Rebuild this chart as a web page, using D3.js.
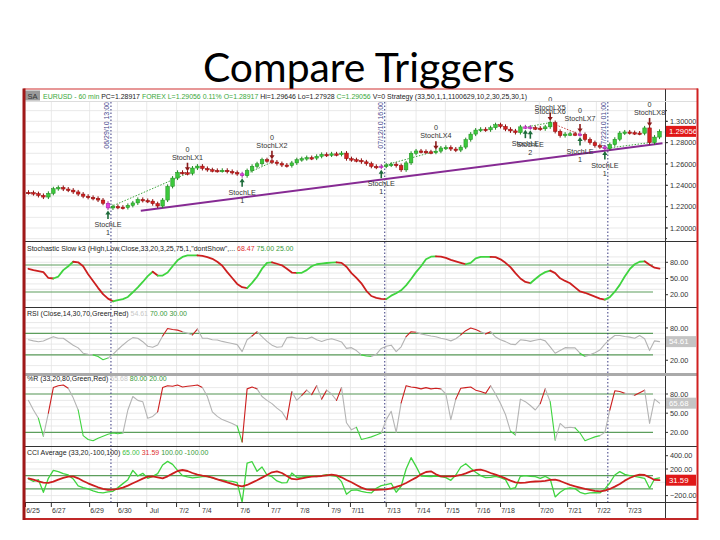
<!DOCTYPE html>
<html><head><meta charset="utf-8">
<script src="https://cdn.jsdelivr.net/npm/d3@7"></script>
<style>
body{margin:0;background:#fff}
svg{display:block}
text{font-family:"Liberation Sans",Arial,sans-serif}
</style>
</head><body><svg id="c" width="720" height="540"></svg>
<script>
// ---------------- DATA ----------------
const firstOpen = 1.2335;
const closes = [1.2332,1.2322,1.2305,1.2290,1.2325,1.2368,1.2380,1.2365,1.2355,1.2338,
 1.2318,1.2298,1.2287,1.2278,1.2262,1.2232,1.2188,1.2202,1.2195,1.2192,
 1.2212,1.2235,1.2268,1.2258,1.2252,1.2228,1.2206,1.2262,1.2390,1.2468,
 1.2522,1.2518,1.2512,1.2562,1.2580,1.2558,1.2546,1.2540,1.2538,1.2541,
 1.2530,1.2520,1.2508,1.2490,1.2538,1.2578,1.2602,1.2640,1.2630,1.2618,
 1.2604,1.2590,1.2585,1.2610,1.2640,1.2650,1.2660,1.2655,1.2672,1.2690,
 1.2684,1.2695,1.2690,1.2702,1.2650,1.2640,1.2634,1.2620,1.2603,1.2578,
 1.2570,1.2580,1.2590,1.2598,1.2585,1.2545,1.2610,1.2700,1.2722,1.2718,
 1.2714,1.2710,1.2720,1.2750,1.2756,1.2740,1.2730,1.2758,1.2828,1.2880,
 1.2918,1.2926,1.2920,1.2940,1.2968,1.2952,1.2926,1.2910,1.2895,1.2948,
 1.2945,1.2940,1.2936,1.2930,1.2948,1.2988,1.2905,1.2866,1.2880,1.2883,
 1.2880,1.2876,1.2830,1.2800,1.2772,1.2760,1.2745,1.2782,1.2832,1.2890,
 1.2900,1.2894,1.2890,1.2888,1.2938,1.2800,1.2852,1.29056];

const stochK = [68,65.5,63.6,61.8,51,50,53.6,65.5,72.7,81,
 80,72.7,58,45.5,32.7,21,12.7,7.8,10,11.8,
 15.8,24.5,33.6,43.6,54.5,62.4,55.5,55.5,61,72.7,
 83.6,90,92.7,92.7,92.7,91.8,89.6,86.4,81,73.6,
 61.8,51,40,34,32.2,41.8,53.3,68.2,79,80,
 77.3,74.5,68.2,61,60.5,60.5,65.5,72.7,76.4,77.6,
 78.7,79.5,80,79,71.8,60,51,41,27.3,17.6,
 14.2,12.2,11.8,18.2,22.7,28.2,37.3,49,61.8,72.7,
 85.5,90.4,91,90.5,88.2,84.5,81.8,79,76.4,79,
 87.3,90,90,90,89.6,85.5,79,71,60,50,
 43.6,41.3,49,56.4,61.8,64.5,60,50.4,45.5,41.3,
 33.6,26,23.6,20,16.4,12.7,10.9,15.5,25.5,38.2,
 53.6,67.3,76.4,81,81.8,75.5,70,68.47];

const rsiVals = [58,56,54.5,55.8,60,63.8,60.8,60.8,54.5,48,
 43,33,31,30,27,21,24,31,40,48.4,
 56,62,60.9,54.5,46,44,48.4,65,79,77,
 76,73,70,67,78,61,61,58,57.7,55,
 53,51,49,36,58,65,73,64,55,48,
 44,45,62,63,61,61,60,63,58,55,
 58,60,57,54,42,43.4,38,30,28,27,
 31,42,46,48,36,45,64,73,72,69,
 67,65,63.8,61,59,56,60,67,75,80,
 77,73,69,73,63,58,54.6,50,49,58,
 57,55,57,59,56,45,33,38,43.4,43,
 43,33,27,30,34,39,50,59,66,66,
 64,63,61,66,60,38,56,54.61];

const pctR = [70,55,42,14,50,90,93,94,89,74,
 55,15,9,7,11,14,17,19,18,19,
 55,76,70,68,42,45,52,90,93,92,
 94,91,92,93,94,90,76,52,45,40,
 37,34,30,5,88,91,88,76,70,65,
 58,52,40,84,70,78,86,79,93,72,
 86,80,70,90,35,24,28,9,11,13,
 16,19,40,53,20,66,93,91,90,88,
 90,88,89,88,80,40,72,89,90,91,
 86,84,81,93,80,65,48,22,16,72,
 68,62,55,65,88,68,8,34,27,28,
 27,19,7,10,13,15,20,55,85,84,
 81,80,78,82,86,34,72,65.68];

const cciVals = [50,15,40,-150,60,180,160,130,110,50,
 -55,-80,-100,-130,-150,-160,-145,-135,-80,-20,
 40,180,95,135,60,90,130,260,315,270,
 180,100,80,65,75,85,85,65,45,35,
 20,15,-5,-300,290,310,165,230,110,85,
 20,-10,-5,140,75,80,90,95,85,100,
 115,100,90,10,-180,-120,-115,-135,-150,-160,
 -90,-50,-35,-15,-150,-60,200,370,240,95,
 90,85,95,85,70,30,110,230,280,210,
 150,100,70,75,90,70,40,-100,-80,90,
 100,90,85,60,90,50,-220,-150,-100,-85,
 -95,-150,-175,-160,-155,-160,-100,-10,110,160,
 120,100,90,75,60,-90,50,65];

const cciAvg = [60,40,15,-5,-10,10,40,65,85,90,
 60,20,-15,-45,-75,-100,-112,-110,-100,-80,
 -50,-15,20,55,85,90,75,60,90,130,
 170,185,170,140,115,100,88,70,45,20,
 0,-25,-45,-60,-40,-5,30,70,110,150,
 165,140,95,50,45,60,75,85,90,95,
 105,115,105,75,35,0,-40,-80,-105,-112,
 -112,-110,-105,-90,-70,-45,-10,30,70,120,
 155,165,120,90,88,90,95,110,135,165,
 185,190,170,140,115,90,60,25,0,-10,
 -5,5,12,15,20,35,40,20,-10,-40,
 -60,-80,-100,-115,-130,-135,-125,-100,-65,-25,
 25,65,95,115,110,75,35,31.59];

const priceTicks = [1.30,1.28,1.26,1.24,1.22,1.20];
const priceMinor = [1.31,1.30,1.29,1.28,1.27,1.26,1.25,1.24,1.23,1.22,1.21,1.20,1.19];
const stochTicks = [80,50,20];
const rsiTicks = [80,20];
const pctRTicks = [80,50,20];
const cciTicks = [400,200,-200];
const stochLevels = [75,25];
const rsiLevels = [70,30];
const pctRLevels = [80,20];
const cciLevels = [100,-100];

const dateLabels = ['6/25','6/27','6/29','6/30','Jul','7/2','7/4','7/6','7/7','7/8','7/9','7/11','7/13','7/14','7/15','7/16','7/18','7/20','7/21','7/22','7/23'];
const dateTickIdx = [-0.6,4.6,12.3,17.9,23.8,29.8,34.4,42.1,48.3,54.1,60.4,64.8,72,78,83.9,90.1,95,102.8,108.5,114.3,120.5];

const eventIdx = [16.6, 71.7, 116.6];
const eventLabels = ['06/29/10 13:00','07/12/10 16:00','07/22/10 01:00'];

const signalIdx   = [16,32,43,49,71,82,100,101,105,105,111,111,116,125];
const signalType  = ['LE','LX','LE','LX','LE','LX','LE','LE','LX','LX','LE','LX','LE','LX'];
const signalLabel = ['StochLE','StochLX1','StochLE','StochLX2','StochLE','StochLX4','StochLE','StochLE','StochLX5','StochLX6','StochLE','StochLX7','StochLE','StochLX8'];
const signalQty   = ['1','0','1','0','1','0','','2','0','','1','0','1','0'];

const longTrades = [[16,32],[43,49],[71,82],[100,105],[116,125]];
const shortTrades = [[105,111]];
const trendIdx = [22.6, 127.6];
const trendPrice = [1.2162, 1.2794];

const headerParts = ['EURUSD - 60 min','PC=1.28917','FOREX','L=1.29056  0.11%  O=1.28917','Hi=1.29646  Lo=1.27928','C=1.29056','V=0','Strategy (33,50,1,1,1100629,10,2,30,25,30,1)'];
const lastPrice = '1.29056', lastRsi = '54.61', lastPctR = '65.68', lastCci = '31.59';

// ---------------- DRAW ----------------
const svg = d3.select('#c');
const PL = 25, PR = 665, AXR = 697;
const GREEN = '#3fd43f', RED = '#cc1f1f', LEVEL = '#5c9e5c', GRAY = '#b4b4b4';

svg.append('rect').attr('width',720).attr('height',540).attr('fill','#fff');

// Title
svg.append('text').attr('x',359).attr('y',82).attr('text-anchor','middle')
  .attr('font-size',40).attr('fill','#000').style('font-family','Lato, "Open Sans", sans-serif')
  .attr('textLength',312).attr('lengthAdjust','spacingAndGlyphs').text('Compare Triggers');

const x = d3.scaleLinear().domain([-0.5,127.5]).range([26,662]);
const yPrice = d3.scaleLinear().domain([1.20,1.30]).range([228,121.3]);
const yStoch = d3.scaleLinear().domain([0,100]).range([305.5,251.5]);
const yRsi = d3.scaleLinear().domain([0,100]).range([371,317.2]);
const yPctR = d3.scaleLinear().domain([0,100]).range([445.2,381.2]);
const yCci = d3.scaleLinear().domain([-300,400]).range([502.25,455.7]);

const panels = [
  {id:'p', top:102, bottom:241},
  {id:'s', top:242, bottom:307},
  {id:'r', top:308, bottom:373},
  {id:'w', top:375, bottom:445},
  {id:'c', top:447, bottom:502}
];
const defs = svg.append('defs');
panels.forEach(p=>{
  defs.append('clipPath').attr('id','clip'+p.id).append('rect')
    .attr('x',PL).attr('y',p.top).attr('width',PR-PL).attr('height',p.bottom-p.top);
});

// grids
const grid = svg.append('g').attr('stroke','#e3e3e3').attr('stroke-width',0.8);
dateTickIdx.forEach(t=>{
  grid.append('line').attr('x1',x(t)).attr('x2',x(t)).attr('y1',102).attr('y2',502);
});
priceMinor.forEach(v=>{
  const yy=yPrice(v); if(yy>102&&yy<241) grid.append('line').attr('x1',PL).attr('x2',PR).attr('y1',yy).attr('y2',yy);
});
[10,30,40,50,60,70,80,90].forEach(v=>{
  grid.append('line').attr('x1',PL).attr('x2',PR).attr('y1',yStoch(v)).attr('y2',yStoch(v));
  grid.append('line').attr('x1',PL).attr('x2',PR).attr('y1',yRsi(v)).attr('y2',yRsi(v));
  grid.append('line').attr('x1',PL).attr('x2',PR).attr('y1',yPctR(v)).attr('y2',yPctR(v));
});
[300,200,0,-200].forEach(v=>{
  grid.append('line').attr('x1',PL).attr('x2',PR).attr('y1',yCci(v)).attr('y2',yCci(v));
});

// level lines
function levels(vals, y){
  vals.forEach(v=>svg.append('line').attr('x1',PL).attr('x2',PR-12).attr('y1',y(v)).attr('y2',y(v))
    .attr('stroke',LEVEL).attr('stroke-width',1.2));
}
levels(stochLevels,yStoch); levels(rsiLevels,yRsi); levels(pctRLevels,yPctR); levels(cciLevels,yCci);

// event lines
const ev = svg.append('g');
eventIdx.forEach((e,k)=>{
  ev.append('line').attr('x1',x(e)).attr('x2',x(e)).attr('y1',102).attr('y2',503)
    .attr('stroke','#3a3a80').attr('stroke-width',1).attr('stroke-dasharray','1.5,2');
  ev.append('text').attr('transform',`translate(${x(e)-1.5},102) rotate(-90)`)
    .attr('text-anchor','end').attr('font-size',7).attr('fill','#44448a').text(eventLabels[k]);
});

// ---- price panel ----
const pg = svg.append('g').attr('clip-path','url(#clipp)');
pg.append('line').attr('x1',x(trendIdx[0])).attr('y1',yPrice(trendPrice[0]))
  .attr('x2',x(trendIdx[1])).attr('y2',yPrice(trendPrice[1]))
  .attr('stroke','#862a93').attr('stroke-width',2);
longTrades.forEach(t=>pg.append('line').attr('x1',x(t[0])).attr('y1',yPrice(closes[t[0]]))
  .attr('x2',x(t[1])).attr('y2',yPrice(closes[t[1]])).attr('stroke','#2a9a2a').attr('stroke-width',0.9).attr('stroke-dasharray','1.5,1.5'));
shortTrades.forEach(t=>pg.append('line').attr('x1',x(t[0])).attr('y1',yPrice(closes[t[0]]))
  .attr('x2',x(t[1])).attr('y2',yPrice(closes[t[1]])).attr('stroke','#c03030').attr('stroke-width',0.9).attr('stroke-dasharray','1.5,1.5'));

const leSet = new Set(signalIdx.filter((d,k)=>signalType[k]==='LE'));
const candles = closes.map((c,i)=>({i, o: i? closes[i-1] : firstOpen, c}));
const cg = pg.append('g');
candles.forEach(d=>{
  const up = d.c >= d.o;
  const hi = Math.max(d.o,d.c), lo = Math.min(d.o,d.c);
  const col = leSet.has(d.i) ? '#e040e0' : (up ? '#3cc83c' : '#d42020');
  const edge = leSet.has(d.i) ? '#a020a0' : (up ? '#1f8a1f' : '#8a0c0c');
  cg.append('line').attr('x1',x(d.i)).attr('x2',x(d.i)).attr('y1',yPrice(hi)-2).attr('y2',yPrice(lo)+2)
    .attr('stroke',edge).attr('stroke-width',1);
  const h = Math.max(1.5, yPrice(lo)-yPrice(hi));
  cg.append('rect').attr('x',x(d.i)-1.8).attr('width',3.6).attr('y',yPrice(hi)).attr('height',h)
    .attr('fill',col).attr('stroke',edge).attr('stroke-width',0.5);
});

// signals
const sg = svg.append('g').attr('font-size',7.2).attr('fill','#333').attr('text-anchor','middle');
const seen = {};
signalIdx.forEach((i,k)=>{
  const o = i? closes[i-1] : firstOpen, c = closes[i];
  const key = i+signalType[k];
  const dup = seen[key]; seen[key] = true;
  const xx = x(i);
  if(signalType[k]==='LE'){
    const yb = yPrice(Math.min(o,c));
    if(!dup){
      sg.append('line').attr('x1',xx).attr('x2',xx).attr('y1',yb+5).attr('y2',yb+11).attr('stroke','#1d6b3a').attr('stroke-width',1.6);
      sg.append('path').attr('d',`M${xx-2.6},${yb+6.5}L${xx},${yb+2.5}L${xx+2.6},${yb+6.5}Z`).attr('fill','#1d6b3a');
    }
    sg.append('text').attr('x',xx).attr('y',yb+19+(dup?4:0)).text(signalLabel[k]);
    if(signalQty[k]) sg.append('text').attr('x',xx).attr('y',yb+27+(dup?4:0)).text(signalQty[k]);
  } else {
    const yt = yPrice(Math.max(o,c));
    if(!dup){
      sg.append('line').attr('x1',xx).attr('x2',xx).attr('y1',yt-10).attr('y2',yt-4).attr('stroke','#8a1a1a').attr('stroke-width',1.6);
      sg.append('path').attr('d',`M${xx-2.6},${yt-5.5}L${xx},${yt-1.5}L${xx+2.6},${yt-5.5}Z`).attr('fill','#8a1a1a');
    }
    sg.append('text').attr('x',xx).attr('y',yt-13+(dup?4:0)).text(signalLabel[k]);
    if(signalQty[k]) sg.append('text').attr('x',xx).attr('y',yt-21).text(signalQty[k]);
  }
});

// colored line helper
function coloredLine(clip, vals, y, colorOf, width){
  const g = svg.append('g').attr('clip-path',`url(#clip${clip})`);
  const runs=[]; let cur=null;
  for(let i=1;i<vals.length;i++){
    const col=colorOf(i);
    if(!cur||cur.col!==col){cur={col,pts:[i-1]};runs.push(cur);}
    cur.pts.push(i);
  }
  const line=d3.line().x(i=>x(i)).y(i=>y(vals[i]));
  g.selectAll(null).data(runs).join('path').attr('d',r=>line(r.pts)).attr('fill','none')
    .attr('stroke',r=>r.col).attr('stroke-width',width).attr('stroke-linejoin','round').attr('stroke-linecap','round');
}
coloredLine('s', stochK, yStoch, i=> stochK[i]>=stochK[i-1]?GREEN:RED, 1.8);
coloredLine('r', rsiVals, yRsi, i=> rsiVals[i]>70?RED:(rsiVals[i]<30?GREEN:GRAY), 1.1);
coloredLine('w', pctR, yPctR, i=> pctR[i]>80?RED:(pctR[i]<20?GREEN:GRAY), 1.1);
coloredLine('c', cciVals, yCci, ()=>GREEN, 1.3);
coloredLine('c', cciAvg, yCci, ()=>RED, 1.8);

// panel labels
function panelLabel(yb, parts){
  const t = svg.append('text').attr('x',27).attr('y',yb).attr('font-size',7);
  parts.forEach(p=>t.append('tspan').attr('fill',p[1]).text(p[0]));
}
panelLabel(250.5,[['Stochastic Slow k3 (High,Low,Close,33,20,3,25,75,1,"dontShow",...  ','#222'],['68.47','#e03030'],['  75.00  25.00','#3a9a3a']]);
panelLabel(315.5,[['RSI (Close,14,30,70,Green,Red)  ','#222'],['54.61','#c8c8c8'],['  70.00  30.00','#3a9a3a']]);
panelLabel(380.5,[['%R (33,20,80,Green,Red)  ','#222'],['65.68','#c8c8c8'],['  80.00  20.00','#3a9a3a']]);
panelLabel(454.5,[['CCI Average (33,20,-100,100)  ','#222'],['65.00','#3fc03f'],['  ','#222'],['31.59','#e03030'],['  100.00  -100.00','#3a9a3a']]);

// header
svg.append('rect').attr('x',25).attr('y',90.5).attr('width',15).attr('height',10).attr('fill','#9a9a9a');
svg.append('text').attr('x',27.5).attr('y',98.8).attr('font-size',7.5).attr('fill','#333').text('SA');
const ht = svg.append('text').attr('x',43).attr('y',98.8).attr('font-size',7)
  .attr('textLength',484).attr('lengthAdjust','spacingAndGlyphs');
const headerColors = ['#3aa83a','#222','#3aa83a','#3aa83a','#222','#3aa83a','#222','#222'];
headerParts.forEach((p,k)=>ht.append('tspan').attr('fill',headerColors[k]).text(p + (k<headerParts.length-1?'  ':'')));

// right axes
const ax = svg.append('g').attr('font-size',7.3).attr('fill','#333');
function axisTicks(vals, y, fmt){
  vals.forEach(v=>{
    ax.append('line').attr('x1',PR).attr('x2',PR+3).attr('y1',y(v)).attr('y2',y(v)).attr('stroke','#333');
    ax.append('text').attr('x',PR+5).attr('y',y(v)+2.6).text(fmt(v));
  });
}
priceMinor.forEach(v=>{ const yy=yPrice(v); if(yy>103&&yy<240) ax.append('line').attr('x1',PR).attr('x2',PR+2).attr('y1',yy).attr('y2',yy).attr('stroke','#333'); });
axisTicks(priceTicks, yPrice, d3.format('.5f'));
axisTicks(stochTicks, yStoch, d3.format('.2f'));
axisTicks(rsiTicks, yRsi, d3.format('.2f'));
axisTicks(pctRTicks, yPctR, d3.format('.2f'));
axisTicks(cciTicks, yCci, d3.format('.2f'));

function valueBox(yc, txt, fill){
  svg.append('rect').attr('x',PR+1).attr('y',yc-5.5).attr('width',AXR-PR-2).attr('height',11).attr('fill',fill);
  svg.append('text').attr('x',PR+4).attr('y',yc+2.8).attr('font-size',7.8).attr('fill','#fff').text(txt);
}
valueBox(yPrice(+lastPrice), lastPrice, '#e01818');
valueBox(yRsi(+lastRsi), lastRsi, '#c4c4c4');
valueBox(yPctR(+lastPctR), lastPctR, '#c4c4c4');
valueBox(yCci(+lastCci), lastCci, '#e01818');

// separators
const sep = svg.append('g').attr('stroke','#333').attr('stroke-width',1);
[241.5,307.5,446.5,502.5].forEach(yy=>sep.append('line').attr('x1',PL).attr('x2',AXR).attr('y1',yy).attr('y2',yy));
svg.append('line').attr('x1',PL).attr('x2',AXR).attr('y1',374.5).attr('y2',374.5).attr('stroke','#aaa').attr('stroke-width',3);
sep.append('line').attr('x1',PR+0.5).attr('x2',PR+0.5).attr('y1',89).attr('y2',519);
sep.append('line').attr('x1',PL).attr('x2',AXR).attr('y1',101.5).attr('y2',101.5).attr('stroke','#ddd');

// x axis
const xa = svg.append('g').attr('font-size',7).attr('fill','#333');
dateTickIdx.forEach((t,k)=>{
  xa.append('line').attr('x1',x(t)).attr('x2',x(t)).attr('y1',503).attr('y2',507).attr('stroke','#333');
  xa.append('text').attr('x',x(t)+7.5).attr('y',512.5).attr('text-anchor','middle').text(dateLabels[k]);
});

// outer frame
svg.append('line').attr('x1',23.5).attr('x2',698).attr('y1',89).attr('y2',89).attr('stroke','#d03030').attr('stroke-width',1.2);
svg.append('line').attr('x1',23.5).attr('x2',698).attr('y1',519).attr('y2',519).attr('stroke','#c02828').attr('stroke-width',2);
svg.append('line').attr('x1',24).attr('x2',24).attr('y1',88.5).attr('y2',520).attr('stroke','#a01818').attr('stroke-width',3);
svg.append('line').attr('x1',697.5).attr('x2',697.5).attr('y1',88.5).attr('y2',520).attr('stroke','#d02020').attr('stroke-width',2);
</script>
</body></html>
